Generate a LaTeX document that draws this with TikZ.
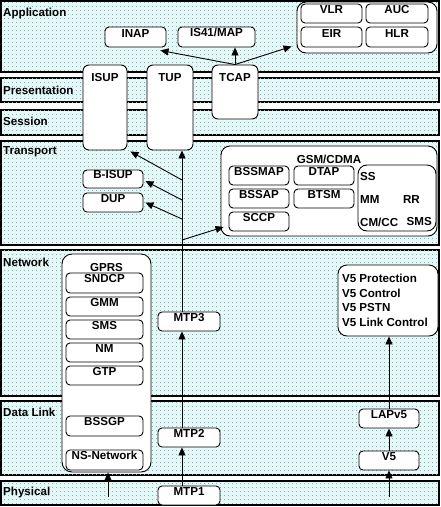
\documentclass[tikz,border=0pt]{standalone}
\usepackage{fontspec}
\setmainfont{Liberation Sans}
\usetikzlibrary{fit,arrows.meta,patterns.meta}
\definecolor{bandfill}{RGB}{230,247,247}
\definecolor{dotc}{RGB}{110,185,185}
\tikzdeclarepattern{
  name=bgdots, type=uncolored,
  bottom left={(0pt,0pt)}, top right={(4pt,4pt)},
  tile size={(4pt,4pt)},
  code={\fill (0pt,0pt) rectangle (1pt,1pt);}
}
\begin{document}
\begin{tikzpicture}[x=1pt,y=-1pt,
  every node/.style={font=\bfseries\fontsize{11.6}{14.6}\selectfont},
  band/.style={draw, line width=1.3pt, fill=bandfill,
    postaction={pattern=bgdots, pattern color=dotc}},
  box/.style={draw, fill=white, rounded corners=4pt, line width=0.9pt, inner sep=0pt},
  bigbox/.style={box, rounded corners=9pt},
  lay/.style={anchor=west, inner sep=0pt},
  arr/.style={line width=0.9pt, -{Triangle[length=8pt,width=7pt]}},
  ln/.style={line width=0.9pt}
]
\useasboundingbox (0,0) rectangle (441,507);
% layers
\path[band] (1,1) rectangle (439,72);
\path[band] (1,78) rectangle (439,102);
\path[band] (1,110) rectangle (439,135);
\path[band] (1,141) rectangle (439,245);
\path[band] (1,250) rectangle (439,396);
\path[band] (1,401) rectangle (439,475);
\path[band] (1,481) rectangle (439,505);
\node[lay] (lApp) at (3,13) {Application};
\node[lay] (lPre) at (3,90) {Presentation};
\node[lay] (lSes) at (3,121) {Session};
\node[lay] (lTra) at (3,152) {Transport};
\node[lay] (lNet) at (3,262) {Network};
\node[lay] (lDat) at (3,412) {Data Link};
\node[lay] (lPhy) at (3,492) {Physical};
% application
\node[box, fit={(105,27) (166,47)}] (INAP) {INAP};
\node[box, fit={(178,27) (255,47)}] (MAP) {IS41/MAP};
\node[bigbox, fit={(297,2) (437,53)}] (appbig) {};
\node[box, fit={(301,4) (362,23)}] (VLR) {VLR};
\node[box, fit={(366,4) (428,23)}] (AUC) {AUC};
\node[box, fit={(301,27) (362,47)}] (EIR) {EIR};
\node[box, fit={(366,27) (428,47)}] (HLR) {HLR};
% tall boxes
\node[box, rounded corners=6pt, fit={(83,65) (127,150)},
  label={[anchor=north, yshift=-5pt]north:ISUP}] (ISUP) {};
\node[box, rounded corners=6pt, fit={(147,65) (193,150)},
  label={[anchor=north, yshift=-5pt]north:TUP}] (TUP) {};
\node[box, rounded corners=6pt, fit={(212,65) (258,119)},
  label={[anchor=north, yshift=-5pt]north:TCAP}] (TCAP) {};
% transport
\node[box, fit={(83,170) (143,188)}] (BISUP) {B-ISUP};
\node[box, fit={(83,193) (143,212)}] (DUP) {DUP};
\node[bigbox, fit={(221,146) (437,236)},
  label={[anchor=north, yshift=-6pt]north:GSM/CDMA}] (GSM) {};
\node[box, fit={(229,166) (289,185)}] (BSSMAP) {BSSMAP};
\node[box, fit={(294,166) (354,185)}] (DTAP) {DTAP};
\node[box, fit={(229,189) (289,208)}] (BSSAP) {BSSAP};
\node[box, fit={(294,189) (354,208)}] (BTSM) {BTSM};
\node[box, fit={(229,212) (289,231)}] (SCCP) {SCCP};
\node[bigbox, fit={(358,165) (436,231)}] (rbox) {};
\node[lay] (SS) at (360,177) {SS};
\node[lay] (MM) at (360,200) {MM};
\node[lay, anchor=east] (RR) at (420,200) {RR};
\node[lay] (CMCC) at (360,222) {CM/CC};
\node[lay, anchor=east] (SMSg) at (432,222) {SMS};
% network / data link
\node[bigbox, rounded corners=10pt, fit={(62,254) (151,472)},
  label={[anchor=north, yshift=-6pt]north:GPRS}] (GPRS) {};
\node[box, fit={(66,273) (143,293)}] (SNDCP) {SNDCP};
\node[box, fit={(66,297) (143,316)}] (GMM) {GMM};
\node[box, fit={(66,320) (143,339)}] (SMS) {SMS};
\node[box, fit={(66,343) (143,362)}] (NM) {NM};
\node[box, fit={(66,366) (143,385)}] (GTP) {GTP};
\node[box, fit={(66,416) (143,436)}] (BSSGP) {BSSGP};
\node[box, fit={(66,450) (143,470)}] (NSN) {NS-Network};
\node[box, fit={(158,312) (220,331)}] (MTP3) {MTP3};
\node[box, fit={(158,428) (220,447)}] (MTP2) {MTP2};
\node[box, fit={(158,486) (220,505)}] (MTP1) {MTP1};
\node[bigbox, fit={(338,265) (438,336)},
  label={[anchor=west, align=left, xshift=1pt]west:{V5 Protection\\V5 Control\\V5 PSTN\\V5 Link Control}}] (V5P) {};
\node[box, fit={(359,409) (419,428)}] (LAPv5) {LAPv5};
\node[box, fit={(359,451) (419,470)}] (V5) {V5};
% connectors
\draw[arr] (TCAP.north) -- ([shift={(-6,3)}]INAP.south east);
\draw[arr] (TCAP.north) -- (TCAP.north |- MAP.south);
\draw[arr] (TCAP.north) -- ([shift={(-5,-7)}]appbig.south west);
\coordinate (bus) at (182,0);
\coordinate (b1) at (182,180);
\coordinate (b2) at (182,200);
\coordinate (b3) at (182,219);
\coordinate (b4) at (182,240);
\draw[arr] (MTP1.north -| bus) -- (MTP2.south -| bus);
\draw[arr] (MTP2.north -| bus) -- (MTP3.south -| bus);
\draw[arr] (MTP3.north -| bus) -- (TUP.south -| bus);
\draw[arr] (b1) -- ([shift={(3,1)}]ISUP.south east);
\draw[arr] (b2) -- ([shift={(2,2)}]BISUP.east);
\draw[arr] (b3) -- ([shift={(2,0)}]DUP.east);
\draw[arr] (b4) -- ([shift={(-5,5.5)}]SCCP.west);
\coordinate (gp) at (108,497);
\draw[arr] (gp) -- (gp |- GPRS.south);
\coordinate (vp) at (389,497);
\draw[arr] (vp) -- (vp |- V5.south);
\draw[arr] (V5.north) -- (LAPv5.south);
\draw[arr] (LAPv5.north) -- (LAPv5.north |- V5P.south);
\end{tikzpicture}
\end{document}
